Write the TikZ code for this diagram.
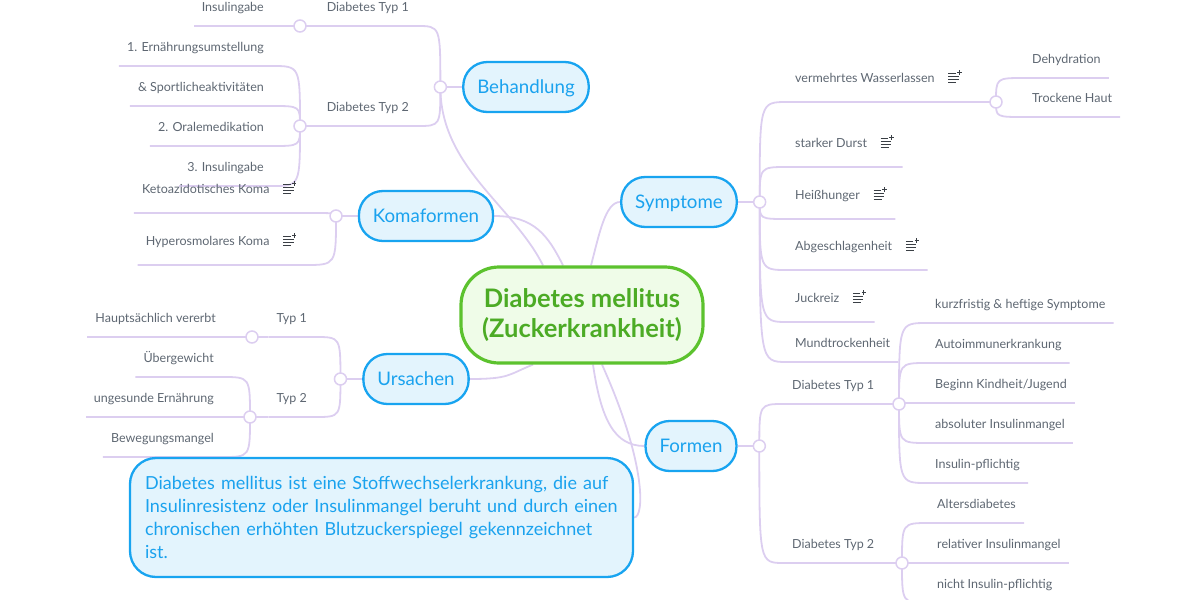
\documentclass[tikz,border=0pt]{standalone}
\usepackage{fontspec}
\setmainfont{Lato}
\usepackage{tikz}
\usetikzlibrary{positioning,backgrounds}
\definecolor{lilac}{HTML}{DCCEF0}
\definecolor{skyblue}{HTML}{18A4F0}
\definecolor{lightsky}{HTML}{E3F4FD}
\definecolor{skytext}{HTML}{1AA2EE}
\definecolor{grass}{HTML}{5CC22E}
\definecolor{lightgrass}{HTML}{EFFCE8}
\definecolor{darkgrass}{HTML}{4CAB25}
\definecolor{slate}{HTML}{5E6772}
\definecolor{ink}{HTML}{3A3F45}
\tikzset{
  link/.style={draw=lilac,line width=1.8pt},
  knob/.style={circle,draw=lilac,fill=white,line width=1.5pt,
    minimum size=12pt,inner sep=0pt},
  rootbox/.style={
    rounded corners=38pt,draw=grass,fill=lightgrass,
    line width=3.2pt,minimum height=96pt,minimum width=242pt,
    align=center,text=darkgrass,font=\fontsize{25.5}{30}\selectfont\bfseries
  },
  topicbox/.style={
    rounded corners=24pt,draw=skyblue,fill=lightsky,
    line width=2.3pt,minimum height=50pt,inner xsep=14pt,
    text height=17pt,text depth=3.7pt,
    text=skytext,font=\fontsize{18.7}{22}\selectfont
  },
  notebox/.style={
    rounded corners=26pt,draw=skyblue,fill=lightsky,
    line width=2.3pt,minimum height=119pt,inner xsep=15pt,
    text width=473pt,align=left,text=skytext,
    font=\fontsize{18}{23}\selectfont
  },
  leaf/.style={
    inner xsep=8pt,inner ysep=0pt,text height=10pt,text depth=14pt,
    text=slate,font=\fontsize{12.5}{15}\selectfont
  },
  noted/.style={text depth=19pt}
}
\newcommand{\noteicon}{\tikz[x=1pt,y=1pt,baseline=0pt,line width=1.3pt]{%
  \draw[ink] (0,9.6)--(7.5,9.6) (0,6.6)--(10.5,6.6) (0,3.6)--(10.5,3.6) (0,0.6)--(8,0.6);
  \draw[ink,line width=1pt] (11,8)--(11,12.5) (8.8,10.2)--(13.2,10.2);}}

\begin{document}
\begin{tikzpicture}[x=1pt,y=-1pt]
\useasboundingbox (0,0) rectangle (1200,600);

% centre and main topics
\node[rootbox] (root) at (582,315) {Diabetes mellitus\\(Zuckerkrankheit)};
\node[topicbox] (bh) at (526,87) {Behandlung};
\node[topicbox] (km) at (426,216) {Komaformen};
\node[topicbox] (ur) at (416,379) {Ursachen};
\node[topicbox] (sy) at (679,202) {Symptome};
\node[topicbox] (fo) at (691,446) {Formen};
\node[notebox] (desc) at (381.5,517.5) {Diabetes mellitus ist eine Stoffwechselerkrankung, die auf\\
  Insulinresistenz oder Insulinmangel beruht und durch einen\\
  chronischen erhöhten Blutzuckerspiegel gekennzeichnet\\ist.};

\node[knob,left=15pt of bh] (bhJ) {};
\node[knob,left=15pt of km] (kmJ) {};
\node[knob,left=15pt of ur] (urJ) {};
\node[knob,right=15pt of sy] (syJ) {};
\node[knob,right=15pt of fo] (foJ) {};

% Behandlung
\node[leaf,anchor=south east] (bhT1) at (417,26) {Diabetes Typ 1};
\node[knob] (bhT1J) at (300,26) {};
\node[leaf,anchor=south east] (bhT1a) at (272,26) {Insulingabe};
\node[leaf,anchor=south east] (bhT2) at (417,126) {Diabetes Typ 2};
\node[knob] (bhT2J) at (300,126) {};
\node[leaf,anchor=south east] (bhT2a) at (272,66) {1. Ernährungsumstellung};
\node[leaf,anchor=south east] (bhT2b) at (272,106) {\& Sportlicheaktivitäten};
\node[leaf,anchor=south east] (bhT2c) at (272,146) {2. Oralemedikation};
\node[leaf,anchor=south east] (bhT2d) at (272,186) {3. Insulingabe};

% Komaformen
\node[leaf,noted,anchor=south east] (kmK) at (305,213) {Ketoazidotisches Koma\hspace{13pt}\noteicon};
\node[leaf,noted,anchor=south east] (kmH) at (305,265) {Hyperosmolares Koma\hspace{13pt}\noteicon};

% Ursachen
\node[leaf,anchor=south east] (urT1) at (315,337) {Typ 1};
\node[knob] (urT1J) at (252,337) {};
\node[leaf,anchor=south east] (urT1a) at (224,337) {Hauptsächlich vererbt};
\node[leaf,anchor=south east] (urT2) at (315,417) {Typ 2};
\node[knob] (urT2J) at (250,417) {};
\node[leaf,anchor=south east] (urT2a) at (222,377) {Übergewicht};
\node[leaf,anchor=south east] (urT2b) at (222,417) {ungesunde Ernährung};
\node[leaf,anchor=south east] (urT2c) at (222,457) {Bewegungsmangel};

% Symptome
\node[leaf,noted,anchor=south west] (syA) at (787,102) {vermehrtes Wasserlassen\hspace{13pt}\noteicon};
\node[knob] (syAJ) at (996,102) {};
\node[leaf,anchor=south west] (syA1) at (1024,78) {Dehydration};
\node[leaf,anchor=south west] (syA2) at (1024,117) {Trockene Haut};
\node[leaf,noted,anchor=south west] (syB) at (787,167) {starker Durst\hspace{13pt}\noteicon};
\node[leaf,noted,anchor=south west] (syC) at (787,219) {Heißhunger\hspace{13pt}\noteicon};
\node[leaf,noted,anchor=south west] (syD) at (787,270) {Abgeschlagenheit\hspace{13pt}\noteicon};
\node[leaf,noted,anchor=south west] (syE) at (787,322) {Juckreiz\hspace{13pt}\noteicon};
\node[leaf,anchor=south west] (syF) at (787,362) {Mundtrockenheit};

% Formen
\node[leaf,anchor=south west] (foT1) at (784,404) {Diabetes Typ 1};
\node[knob] (foT1J) at (899,404) {};
\node[leaf,anchor=south west] (foT1a) at (927,323) {kurzfristig \& heftige Symptome};
\node[leaf,anchor=south west] (foT1b) at (927,363) {Autoimmunerkrankung};
\node[leaf,anchor=south west] (foT1c) at (927,403) {Beginn Kindheit/Jugend};
\node[leaf,anchor=south west] (foT1d) at (927,443) {absoluter Insulinmangel};
\node[leaf,anchor=south west] (foT1e) at (927,483) {Insulin-pflichtig};
\node[leaf,anchor=south west] (foT2) at (784,563) {Diabetes Typ 2};
\node[knob] (foT2J) at (902,563) {};
\node[leaf,anchor=south west] (foT2a) at (929,523) {Altersdiabetes};
\node[leaf,anchor=south west] (foT2b) at (929,563) {relativer Insulinmangel};
\node[leaf,anchor=south west] (foT2c) at (929,603) {nicht Insulin-pflichtig};

% connectors
\begin{scope}[on background layer]
\draw[link] ([xshift=-39pt]root.north) .. controls +(-30,-60) and +(0,80) .. (bhJ.center);
\draw[link] (km.east) .. controls +(40,0) and +(-15,-30) .. ([xshift=-19pt]root.north);
\draw[link] ([xshift=9pt]root.north) .. controls +(8,-30) and +(-15,0) .. (sy.west);
\draw[link] (ur.east) .. controls +(40,0) and +(-25,10) .. ([xshift=-49pt]root.south);
\draw[link] ([xshift=11pt]root.south) .. controls +(8,55) and +(-30,0) .. (fo.west);
\draw[link] ([xshift=20pt]root.south) .. controls +(45,100) and +(10,0) .. (desc.east);
\foreach \t in {bh,km,ur,sy,fo}
  \draw[link] (\t) -- (\t J.center);

% left side
\foreach \p/\n in {bhJ/bhT1,bhJ/bhT2,bhT1J/bhT1a,bhT2J/bhT2a,bhT2J/bhT2b,bhT2J/bhT2c,bhT2J/bhT2d,
    kmJ/kmK,kmJ/kmH,urJ/urT1,urJ/urT2,urT1J/urT1a,urT2J/urT2a,urT2J/urT2b,urT2J/urT2c}
  \draw[link] (\p.center) .. controls (\p |- \n.south east) .. (\n.south east) -- (\n.south west);
\draw[link] (bhT1.south west) -- (bhT1J.center);
\draw[link] (bhT2.south west) -- (bhT2J.center);
\draw[link] (urT1.south west) -- (urT1J.center);
\draw[link] (urT2.south west) -- (urT2J.center);

% right side
\foreach \p/\n in {syJ/syA,syJ/syB,syJ/syC,syJ/syD,syJ/syE,syJ/syF,syAJ/syA1,syAJ/syA2,
    foJ/foT1,foJ/foT2,foT1J/foT1a,foT1J/foT1b,foT1J/foT1c,foT1J/foT1d,foT1J/foT1e,
    foT2J/foT2a,foT2J/foT2b,foT2J/foT2c}
  \draw[link] (\p.center) .. controls (\p |- \n.south west) .. (\n.south west) -- (\n.south east);
\draw[link] (syA.south east) -- (syAJ.center);
\draw[link] (foT1.south east) -- (foT1J.center);
\draw[link] (foT2.south east) -- (foT2J.center);
\end{scope}
\end{tikzpicture}
\end{document}
